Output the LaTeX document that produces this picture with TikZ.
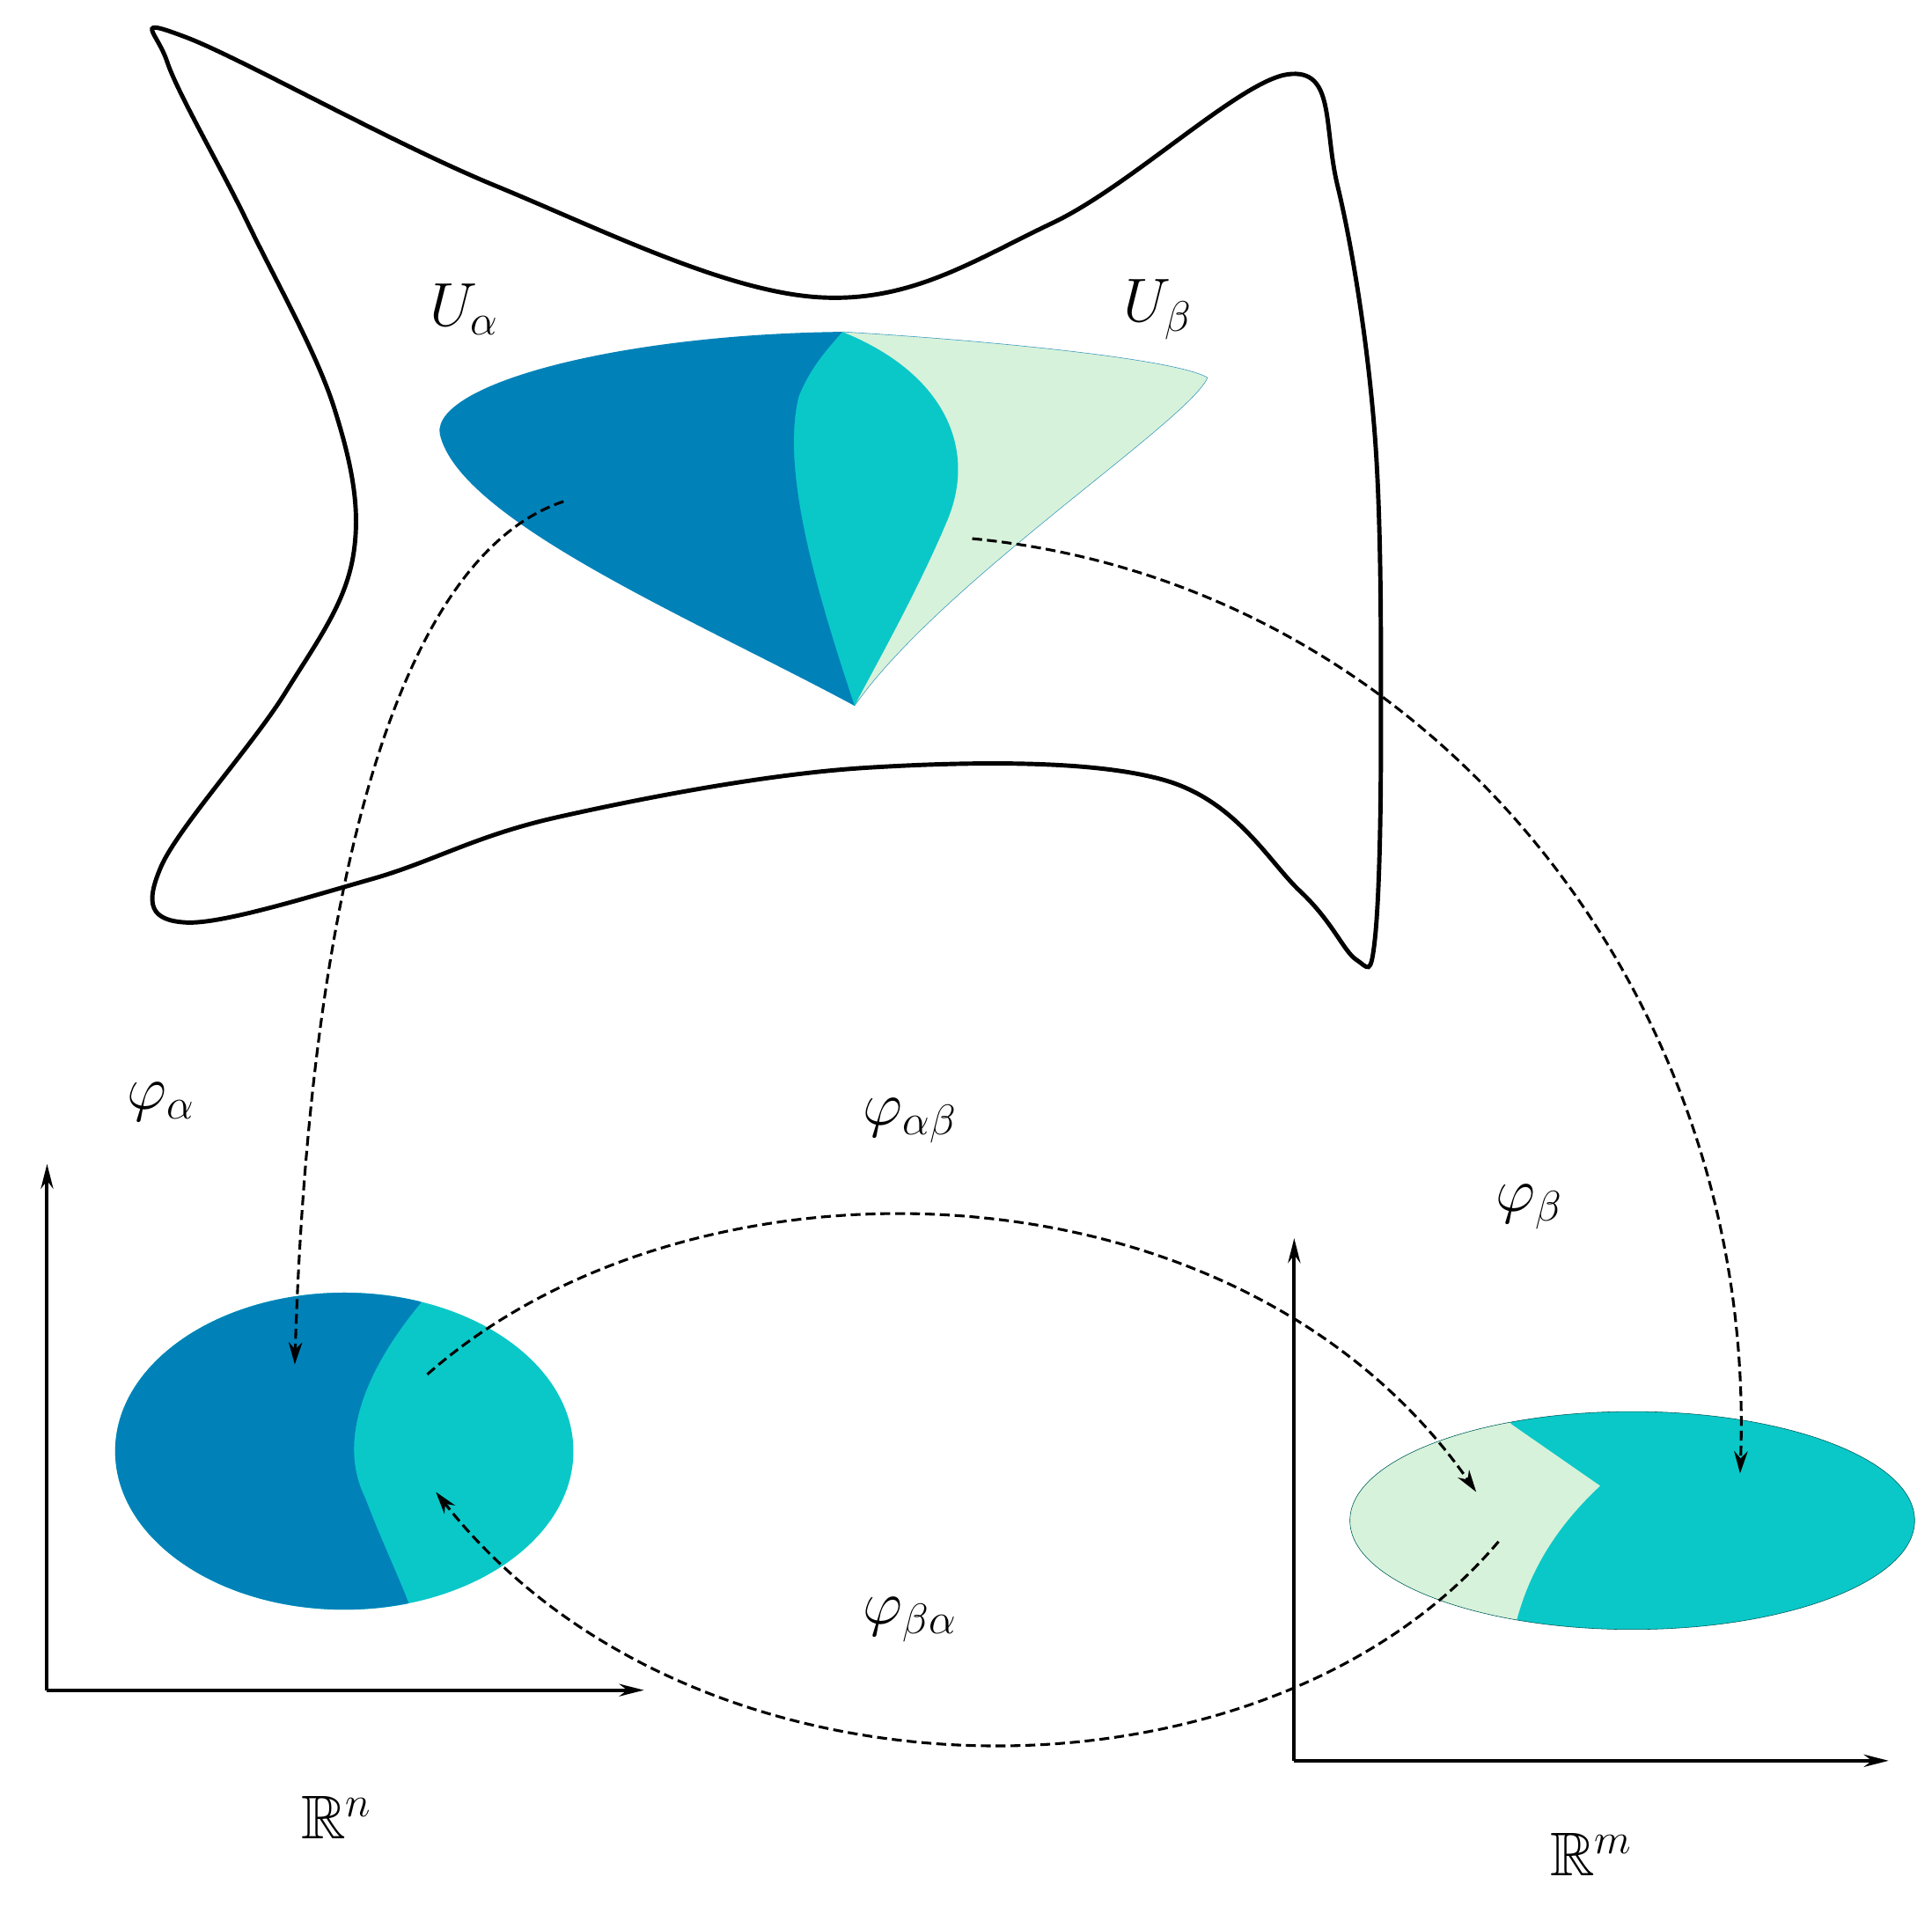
\documentclass[tikz,border=0pt]{standalone}
\usepackage{amssymb}
\usetikzlibrary{arrows.meta}
\begin{document}
\begin{tikzpicture}[x=1pt,y=-1pt,
 dar/.style={dash pattern=on 8pt off 4pt,line width=2.2pt,-{Stealth[length=18pt,width=11pt]}},
 lbl/.style={font=\huge,scale=2.4},
 ax/.style={line width=2.8pt,-{Stealth[length=20pt,width=10pt]}}]
\useasboundingbox (0,0) rectangle (1560,1551);
\definecolor{dblue}{RGB}{0,130,185}
\definecolor{teal2}{RGB}{10,200,200}
\definecolor{lgreen}{RGB}{215,242,218}
% manifold
\draw[line width=3.5pt] plot[smooth cycle,tension=0.6] coordinates{
(150,30) (400,150) (660,240) (850,180) (1040,60) (1080,150) (1110,350) (1115,600) (1110,760) (1095,775) (1050,720) (940,630) (700,620) (450,660) (300,710) (150,745) (130,700) (230,560) (285,450) (270,330) (200,180) (135,50)};
% patch
\fill[lgreen] (680,268) .. controls (800,275) and (950,290) .. (975,305) .. controls (960,340) and (760,470) .. (690,570) -- cycle;
\draw[cyan!50!teal,thin] (680,268) .. controls (800,275) and (950,290) .. (975,305) .. controls (960,340) and (760,470) .. (690,570);
\fill[teal2] (680,268) .. controls (760,300) and (790,360) .. (765,420) .. controls (740,480) and (700,550) .. (690,570) -- (600,400) -- (630,300) -- cycle;
\fill[dblue] (680,268) .. controls (500,270) and (350,310) .. (355,350) .. controls (370,420) and (560,500) .. (690,570) .. controls (660,480) and (630,380) .. (645,320) .. controls (655,295) and (670,280) .. (680,268) -- cycle;
% left chart
\fill[teal2] (278,1172) ellipse [x radius=185, y radius=128];
\begin{scope}
\clip (278,1172) ellipse [x radius=185, y radius=128];
\fill[dblue] (0,1000) -- (340,1000) -- (340,1052) .. controls (300,1100) and (270,1160) .. (295,1210) .. controls (310,1250) and (330,1290) .. (335,1310) -- (0,1310) -- cycle;
\end{scope}
% right chart
\fill[teal2] (1318,1228) ellipse [x radius=228, y radius=88];
\begin{scope}
\clip (1318,1228) ellipse [x radius=228, y radius=88];
\fill[lgreen] (1000,1100) -- (1205,1100) -- (1220,1150) -- (1292,1200) .. controls (1260,1230) and (1230,1270) .. (1220,1330) -- (1000,1330) -- cycle;
\end{scope}
\draw[teal!70!black,thin] (1318,1228) ellipse [x radius=228, y radius=88];
% axes
\coordinate (o1) at (38,1365); \coordinate (o2) at (1045,1422);
\draw[ax] (o1) -- (38,940);
\draw[ax] (o1) -- (520,1365);
\draw[ax] (o2) -- (1045,1000);
\draw[ax] (o2) -- (1525,1422);
% dashed arrows
\coordinate (a1) at (455,405); \coordinate (b1) at (238,1102);
\coordinate (a2) at (785,435); \coordinate (b2) at (1405,1190);
\coordinate (a3) at (345,1110); \coordinate (b3) at (1192,1205);
\coordinate (a4) at (1210,1245); \coordinate (b4) at (352,1205);
\draw[dar] (a1) .. controls (320,450) and (250,720) .. (b1);
\draw[dar] (a2) .. controls (1150,470) and (1420,800) .. (b2);
\draw[dar] (a3) .. controls (560,920) and (1000,930) .. (b3);
\draw[dar] (a4) .. controls (1020,1470) and (560,1470) .. (b4);
% labels
\node[lbl] (ua) at (375,250) {$U_{\alpha}$};
\node[lbl] (ub) at (935,250) {$U_{\beta}$};
\node[lbl] (pa) at (130,890) {$\varphi_{\alpha}$};
\node[lbl] (pab) at (735,905) {$\varphi_{\alpha\beta}$};
\node[lbl] (pb) at (1235,975) {$\varphi_{\beta}$};
\node[lbl] (pba) at (735,1308) {$\varphi_{\beta\alpha}$};
\node[lbl] (rn) at (272,1468) {$\mathbb{R}^{n}$};
\node[lbl] (rm) at (1285,1498) {$\mathbb{R}^{m}$};
\end{tikzpicture}
\end{document}
